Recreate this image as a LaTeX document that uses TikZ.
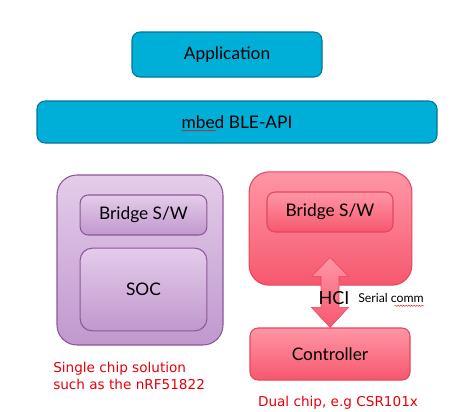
\documentclass[tikz,border=0pt]{standalone}
\usepackage{fontspec}
\setmainfont{Lato}
\newfontfamily\notefont{DejaVu Sans}
\usetikzlibrary{decorations.pathmorphing}
\definecolor{apicyan}{RGB}{0,175,216}
\definecolor{apiedge}{RGB}{0,118,150}
\definecolor{soclight}{RGB}{228,204,234}
\definecolor{socdark}{RGB}{192,152,206}
\definecolor{socedge}{RGB}{140,88,152}
\definecolor{duallight}{RGB}{255,150,165}
\definecolor{dualdark}{RGB}{246,88,110}
\definecolor{dualedge}{RGB}{228,70,95}
\definecolor{notered}{RGB}{230,0,10}
\tikzset{
    common/.style={draw, rectangle, thick, inner sep=0pt, font=\fontsize{13}{15}\selectfont},
    layer/.style={common, fill=apicyan, draw=apiedge, rounded corners=6pt},
    socbox/.style={common, top color=soclight, bottom color=socdark, draw=socedge},
    dualbox/.style={common, top color=duallight, bottom color=dualdark, draw=dualedge},
    note/.style={anchor=north west, align=left, text=notered, inner sep=0pt,
        font=\notefont\fontsize{10.2}{13}\selectfont},
    spell/.style={notered, decorate, decoration={snake, amplitude=.4pt, segment length=2pt}, line width=.3pt}
}

\begin{document}
\begin{tikzpicture}[x=0.75pt, y=-0.75pt]
    \useasboundingbox (0,0) rectangle (474,411);

    % software layers
    \node[layer, minimum width=142.5pt, minimum height=33.75pt] (app) at (227,54.5) {Application};
    \node[layer, minimum width=300pt, minimum height=31.5pt] (api) at (237,122) {mbed BLE-API};

    % single chip
    \node[socbox, rounded corners=15pt, minimum width=124.5pt, minimum height=127.5pt] (soc-chip) at (140,260) {};
    \node[socbox, rounded corners=6pt, minimum width=95pt, minimum height=30pt] (soc-bridge) at (143.5,215) {Bridge S/W};
    \node[socbox, rounded corners=9pt, minimum width=95pt, minimum height=62pt] (soc) at (143.5,289.5) {SOC};
    \node[note] (soc-note) at (53,362) {Single chip solution\\such as the nRF51822};

    % dual chip
    \node[dualbox, rounded corners=15pt, minimum width=122pt, minimum height=85pt] (host-chip) at (330.5,228.5) {};
    \node[dualbox, rounded corners=6pt, minimum width=94.5pt, minimum height=30pt] (host-bridge) at (330,212) {Bridge S/W};
    \node[dualbox, rounded corners=6pt, minimum width=120pt, minimum height=39pt] (ctrl) at (330,354) {Controller};
    \node[note, anchor=north] (dual-note) at (338,396) {Dual chip, e.g CSR101x};

    % hci link
    \draw[dualedge, thin, top color=duallight, bottom color=dualdark]
        (ctrl.north) -- ++(18.5,-20) -- ++(-9.5,0) -- ++(0,-31) -- ++(9.5,0) -- ++(-18.5,-19)
        -- ++(-18.5,19) -- ++(9.5,0) -- ++(0,31) -- ++(-9.5,0) -- cycle;
    \node[font=\fontsize{13.5}{15}\selectfont, inner sep=0pt] (hci-label) at (334,298) {HCI};
    \node[font=\fontsize{9.2}{10}\selectfont, anchor=west, inner sep=0pt] (serial) at (358,298.5) {Serial comm};

    % spell check marks
    \draw[spell] ([xshift=-41.5pt, yshift=-6.5pt]api.center) -- ([xshift=-16pt, yshift=-6.5pt]api.center);
    \draw[spell] ([xshift=-22pt, yshift=-5.5pt]serial.east) -- ([yshift=-5.5pt]serial.east);
\end{tikzpicture}
\end{document}
